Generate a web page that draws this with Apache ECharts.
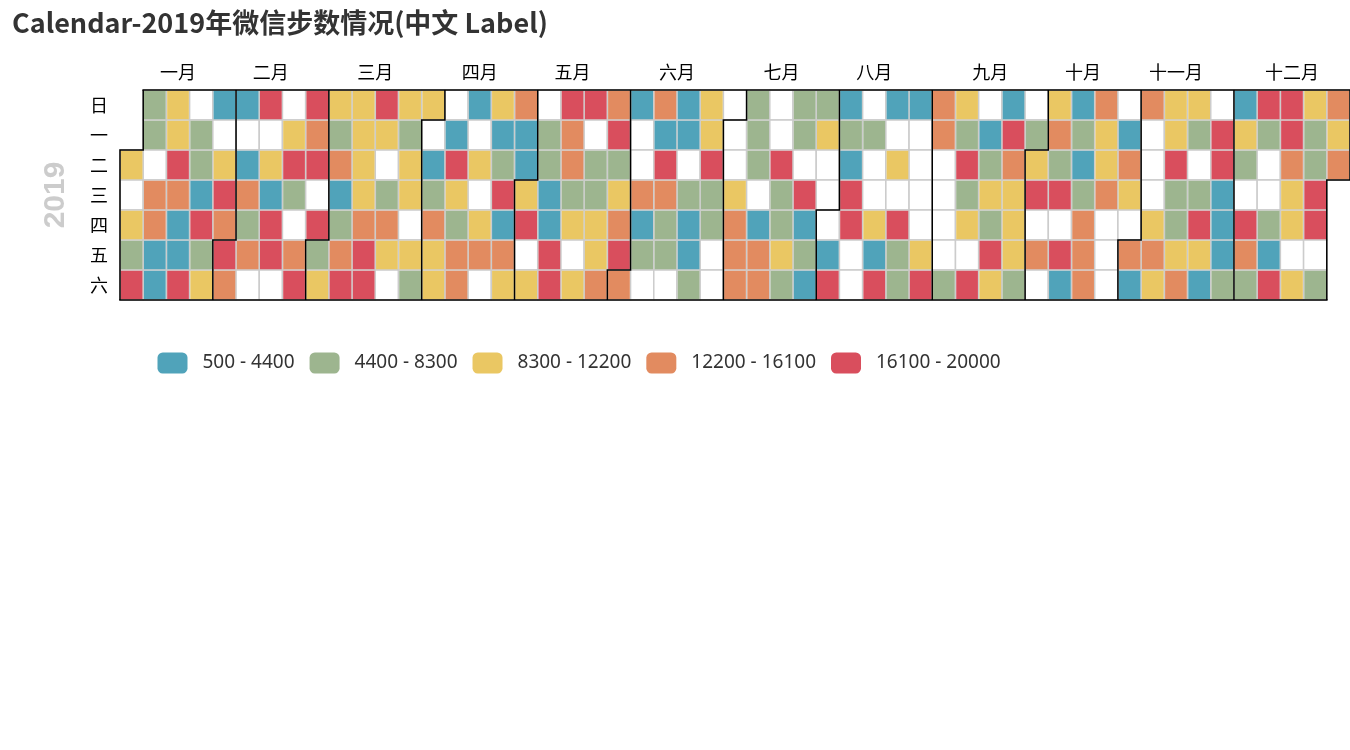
<!DOCTYPE html>
<html>
<head>
<meta charset="utf-8">
<title>Calendar-2019年微信步数情况</title>
<script src="https://cdn.jsdelivr.net/npm/echarts@6/dist/echarts.min.js"></script>
<style>
  html, body { margin: 0; padding: 0; background: #fff; }
  #main { width: 1350px; height: 750px; }
</style>
</head>
<body>
<div id="main"></div>
<script>
// 每天的步数（按颜色读出的估计值，>20000 的格子显示为白色）
const jan = [10300,22500,10300,6400,18000, 6400,6400,22500,14100,14100,2500,2500, 10300,10300,18000,14100,2500,2500,18000, 22500,6400,6400,2500,18000,6400,10300, 2500,22500,10300,18000,14100];
const feb = [18000,14100, 2500,22500,2500,14100,6400,14100,22500, 18000,22500,10300,2500,18000,18000,22500, 22500,10300,18000,6400,22500,14100,18000, 18000,14100,18000,22500,18000];
const mar = [6400,10300, 10300,6400,14100,2500,6400,14100,18000, 10300,10300,10300,10300,14100,18000,18000, 18000,10300,22500,6400,14100,10300,22500, 10300,6400,10300,10300,22500,10300,6400, 10300];
const apr = [22500,2500,6400,14100,10300,10300, 22500,2500,18000,10300,6400,14100,14100, 2500,22500,10300,22500,10300,14100,22500, 10300,2500,6400,18000,2500,14100,10300, 14100,2500,2500];
const may = [10300,18000,22500,10300, 22500,6400,6400,2500,2500,18000,18000, 18000,14100,14100,6400,10300,22500,10300, 18000,22500,6400,6400,10300,10300,14100, 14100,18000,6400,10300,14100,18000];
const jun = [14100, 2500,22500,22500,14100,2500,6400,22500, 14100,2500,18000,14100,6400,6400,22500, 2500,2500,22500,6400,2500,2500,6400, 10300,10300,18000,6400,6400,22500,22500, 22500];
const jul = [22500,22500,10300,14100,14100,14100, 6400,6400,6400,22500,2500,14100,14100, 22500,22500,18000,6400,6400,10300,6400, 6400,6400,22500,18000,2500,6400,2500, 6400,10300,22500,22500];
const aug = [22500,2500,18000, 2500,6400,2500,18000,18000,22500,22500, 22500,6400,22500,22500,10300,2500,18000, 2500,22500,10300,22500,18000,6400,6400, 2500,22500,22500,22500,22500,10300,18000];
const sep = [14100,14100,22500,22500,22500,22500,6400, 10300,6400,18000,6400,10300,22500,18000, 22500,2500,6400,10300,6400,18000,10300, 2500,18000,14100,10300,10300,10300,6400, 22500,6400];
const oct = [10300,18000,22500,14100,22500, 10300,14100,6400,18000,22500,18000,2500, 2500,6400,2500,6400,14100,14100,14100, 14100,10300,10300,14100,22500,22500,22500, 22500,2500,14100,10300,22500];
const nov = [14100,2500, 14100,22500,22500,22500,10300,14100,10300, 10300,10300,18000,6400,6400,10300,14100, 10300,6400,22500,6400,18000,10300,2500, 22500,18000,18000,2500,2500,2500,6400];
const dec = [2500,10300,6400,22500,18000,14100,6400, 18000,6400,22500,22500,6400,2500,18000, 18000,18000,14100,10300,10300,22500,10300, 10300,6400,6400,18000,18000,22500,6400, 14100,10300,14100];

const monthNames = ['一月','二月','三月','四月','五月','六月','七月','八月','九月','十月','十一月','十二月'];
const dayNames = ['日','一','二','三','四','五','六'];
const rangeColors = ['#50a3ba', '#eac763', '#d94e5d'];

const months = [jan, feb, mar, apr, may, jun, jul, aug, sep, oct, nov, dec];
const data = [];
months.forEach((arr, m) => {
  arr.forEach((v, i) => {
    const mm = String(m + 1).padStart(2, '0');
    const dd = String(i + 1).padStart(2, '0');
    data.push(['2019-' + mm + '-' + dd, v]);
  });
});

const myChart = echarts.init(document.querySelector('#main'));
const option = {
  title: {
    text: 'Calendar-2019年微信步数情况(中文 Label)',
    left: 7,
    top: 4,
    textStyle: {
      fontSize: 27,
      fontWeight: 'bold',
      color: '#333',
      fontFamily: 'Noto Sans CJK SC'
    }
  },
  tooltip: {},
  visualMap: {
    type: 'piecewise',
    min: 500,
    max: 20000,
    splitNumber: 5,
    orient: 'horizontal',
    left: 150,
    top: 345,
    padding: 7.5,
    itemWidth: 30,
    itemHeight: 21,
    itemGap: 15,
    textGap: 15,
    textStyle: {
      fontSize: 19,
      color: '#333',
      fontFamily: 'Noto Sans'
    },
    inRange: {
      color: rangeColors
    }
  },
  calendar: {
    range: '2019',
    left: 120,
    top: 90,
    right: 0,
    cellSize: ['auto', 30],
    itemStyle: {
      color: '#fff',
      borderWidth: 1.5,
      borderColor: '#ccc'
    },
    splitLine: {
      lineStyle: {
        color: '#000',
        width: 1.5
      }
    },
    dayLabel: {
      firstDay: 0,
      nameMap: dayNames,
      margin: 12,
      fontSize: 18,
      color: '#000',
      fontFamily: 'Noto Sans CJK SC'
    },
    monthLabel: {
      nameMap: monthNames,
      margin: 9,
      fontSize: 18,
      color: '#000',
      fontFamily: 'Noto Sans CJK SC'
    },
    yearLabel: {
      margin: 49,
      fontSize: 30,
      color: '#ccc',
      fontWeight: 'bold'
    }
  },
  series: [
    {
      type: 'heatmap',
      coordinateSystem: 'calendar',
      data: data
    }
  ]
};
myChart.setOption(option);
</script>
</body>
</html>
